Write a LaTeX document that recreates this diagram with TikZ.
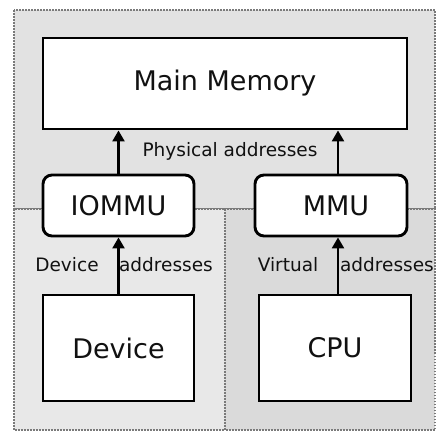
\documentclass[tikz,border=0pt]{standalone}
\usepackage{fontspec}
\setmainfont{DejaVu Sans}
\usetikzlibrary{arrows.meta}
\definecolor{bgtop}{HTML}{E2E2E2}
\definecolor{bgleft}{HTML}{E8E8E8}
\definecolor{bgright}{HTML}{DADADA}
\definecolor{dotc}{HTML}{7A7A7A}
\definecolor{txt}{HTML}{111111}
\tikzset{
  region/.style={draw=dotc, line width=1.7pt, dash pattern=on 1.5pt off 1.5pt},
  sqbox/.style={draw=black, fill=white, line width=2.9pt, inner sep=0pt, font=\fontsize{27}{31}\selectfont, text=txt},
  rbox/.style={sqbox, rounded corners=9pt},
  lbl/.style={font=\fontsize{18.5}{22}\selectfont, text=txt, inner sep=0pt},
  arr/.style={line width=2.4pt, -{Triangle[length=11pt,width=12pt]}},
}
\begin{document}
\begin{tikzpicture}[x=1pt,y=-1pt]
\useasboundingbox (0,0) rectangle (448,439);
\fill[white] (0,0) rectangle (448,439);
\draw[region, fill=bgtop] (14,10) rectangle (435,209);
\draw[region, fill=bgleft] (14,209) rectangle (225,430);
\draw[region, fill=bgright] (225,209) rectangle (435,430);

\node[sqbox, minimum width=364pt, minimum height=91pt] (mem) at (225,83.5) {Main Memory};
\node[rbox, minimum width=151pt, minimum height=61pt] (iommu) at (118.5,205.5) {IOMMU};
\node[rbox, minimum width=152pt, minimum height=61pt] (mmu) at (331,205.5) {\hspace{10pt}MMU};
\node[sqbox, minimum width=151pt, minimum height=106pt] (dev) at (118.5,348) {Device};
\node[sqbox, minimum width=152pt, minimum height=106pt] (cpu) at (335,348) {CPU};

\draw[arr] (iommu.north) -- (iommu.north |- mem.south);
\draw[arr] ([xshift=7pt]mmu.north) -- ([xshift=7pt]mmu.north |- mem.south);
\draw[arr] (dev.north) -- (dev.north |- iommu.south);
\draw[arr] ([xshift=3pt]cpu.north) -- ([xshift=3pt]cpu.north |- mmu.south);

\node[lbl] (phys) at (230,151) {Physical addresses};
\node[lbl] (devl) at (67,265) {Device};
\node[lbl] (devaddr) at (166,265) {addresses};
\node[lbl] (virt) at (288,265) {Virtual};
\node[lbl] (viraddr) at (387,265) {addresses};
\end{tikzpicture}
\end{document}
